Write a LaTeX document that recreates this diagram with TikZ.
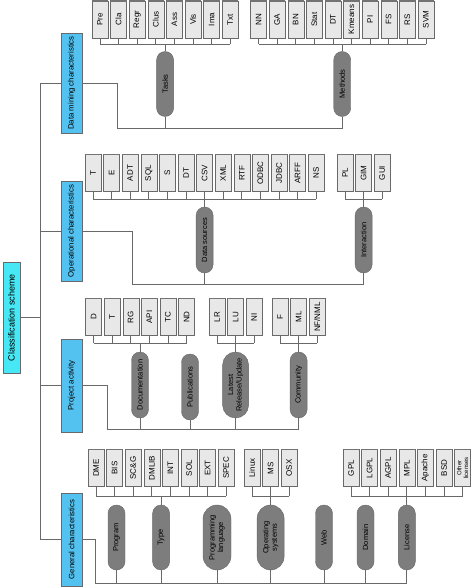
\documentclass[tikz,border=0pt]{standalone}
\usepackage{fontspec}
\setmainfont{Liberation Sans}
\usetikzlibrary{shapes.misc}

\definecolor{rootcol}{RGB}{70,232,245}
\definecolor{catcol}{RGB}{84,194,240}
\definecolor{grpcol}{RGB}{125,125,125}
\definecolor{leafcol}{RGB}{232,232,232}
\definecolor{linecol}{RGB}{105,105,105}

\tikzset{
  every node/.style={rotate=90, inner sep=0pt},
  rootbox/.style={draw=linecol, fill=rootcol, minimum width=111pt,
    minimum height=17pt, font=\fontsize{9}{10}\selectfont},
  catbox/.style={draw=linecol, fill=catcol, minimum height=21pt,
    font=\fontsize{7.8}{9}\selectfont},
  grpbox/.style={rounded rectangle, draw=black!60, fill=grpcol,
    minimum width=65pt, minimum height=17pt, align=center,
    font=\fontsize{7.5}{8.5}\selectfont},
  leafbox/.style={draw=linecol, fill=leafcol, minimum width=37pt,
    minimum height=16pt, align=center, font=\fontsize{8}{9}\selectfont},
  topbar/.style={line width=1.6pt, draw=black!55},
  wire/.style={draw=linecol, line width=0.8pt}
}

\begin{document}
\begin{tikzpicture}[x=1pt, y=-1pt]
  \useasboundingbox (0,0) rectangle (474,587);

  % root and trunk
  \node[rootbox] (root) at (11.5,317.5) {Classification scheme};
  \coordinate (trunk) at (40,0);

  \node[catbox, minimum width=100pt] (dm) at (71.5,83) {Data mining characteristics};
  \node[catbox, minimum width=100pt] (op) at (71.5,231) {Operational characteristics};
  \node[catbox, minimum width=93pt] (pa) at (71.5,385.5) {Project activity};
  \node[catbox, minimum width=93pt] (gc) at (71.5,539.5) {General characteristics};

  \draw[wire] (dm.north -| trunk) -- (gc.north -| trunk);
  \draw[wire] (root.south) -- (root.south -| trunk);
  \foreach \c in {dm,op,pa,gc} \draw[wire] (\c.north) -- (\c.north -| trunk);

  % data mining characteristics
  \coordinate (tabus) at (0,44); \coordinate (dmlow) at (117,128);
  \foreach \t [count=\i] in {Pre,Cla,Regr,Clus,Ass,Vis,Ima,Txt}{
    \node[leafbox] (ta\i) at ({100+18.6*(\i-1)},19.5) {\t};
    \draw[topbar] (ta\i.north east) -- (ta\i.south east);
    \draw[wire] (ta\i.west) -- (ta\i.west |- tabus);
  }
  \foreach \t [count=\i] in {NN,GA,BN,Stat,DT,Kmeans,PI,FS,RS,SVM}{
    \node[leafbox] (me\i) at ({258.5+18.6*(\i-1)},19.5) {\t};
    \draw[topbar] (me\i.north east) -- (me\i.south east);
    \draw[wire] (me\i.west) -- (me\i.west |- tabus);
  }
  \draw[wire] (ta1.west |- tabus) -- (ta8.west |- tabus);
  \draw[wire] (me1.west |- tabus) -- (me10.west |- tabus);

  \node[grpbox] (tasks) at (165.1,84) {Tasks};
  \node[grpbox] (methods) at (342.2,84) {Methods};
  \draw[wire] (tasks.east) -- (tasks.east |- tabus);
  \draw[wire] (methods.east) -- (methods.east |- tabus);
  \draw[wire] (dm.south) -| (dmlow) -| (methods.west);
  \draw[wire] (tasks.west) -- (tasks.west |- dmlow);

  % operational characteristics
  \coordinate (dsbus) at (0,199); \coordinate (oplow) at (132,284);
  \foreach \t [count=\i] in {T,E,ADT,SQL,S,DT,CSV,XML,RTF,ODBC,JDBC,ARFF,NS}{
    \node[leafbox] (ds\i) at ({93+18.6*(\i-1)},173) {\t};
    \draw[topbar] (ds\i.north east) -- (ds\i.south east);
    \draw[wire] (ds\i.west) -- (ds\i.west |- dsbus);
  }
  \foreach \t [count=\i] in {PL,GIM,GUI}{
    \node[leafbox] (in\i) at ({345+18.6*(\i-1)},173) {\t};
    \draw[topbar] (in\i.north east) -- (in\i.south east);
    \draw[wire] (in\i.west) -- (in\i.west |- dsbus);
  }
  \draw[wire] (ds1.west |- dsbus) -- (ds13.west |- dsbus);
  \draw[wire] (in1.west |- dsbus) -- (in3.west |- dsbus);

  \node[grpbox, minimum width=66pt] (sources) at (204.6,240) {Data sources};
  \node[grpbox, minimum width=66pt] (interaction) at (363.6,240) {Interaction};
  \draw[wire] (sources.east) -- (sources.east |- dsbus);
  \draw[wire] (interaction.east) -- (interaction.east |- dsbus);
  \draw[wire] (op.south) -| (oplow) -| (interaction.west);
  \draw[wire] (sources.west) -- (sources.west |- oplow);

  % project activity
  \coordinate (pabus) at (0,343); \coordinate (palow) at (107,429);
  \foreach \t [count=\i] in {D,T,RG,API,TC,ND}{
    \node[leafbox] (do\i) at ({93.5+18.6*(\i-1)},317) {\t};
    \draw[topbar] (do\i.north east) -- (do\i.south east);
    \draw[wire] (do\i.west) -- (do\i.west |- pabus);
  }
  \foreach \t [count=\i] in {LR,LU,NI}{
    \node[leafbox] (lr\i) at ({217+18.6*(\i-1)},317) {\t};
    \draw[topbar] (lr\i.north east) -- (lr\i.south east);
    \draw[wire] (lr\i.west) -- (lr\i.west |- pabus);
  }
  \foreach \t [count=\i] in {F,ML,NF/NML}{
    \node[leafbox] (co\i) at ({280+18.6*(\i-1)},317) {\t};
    \draw[topbar] (co\i.north east) -- (co\i.south east);
    \draw[wire] (co\i.west) -- (co\i.west |- pabus);
  }
  \draw[wire] (do1.west |- pabus) -- (do6.west |- pabus);
  \draw[wire] (lr1.west |- pabus) -- (lr3.west |- pabus);
  \draw[wire] (co1.west |- pabus) -- (co3.west |- pabus);

  \node[grpbox, minimum width=66pt] (docs) at (140,385) {Documentation};
  \node[grpbox, minimum width=66pt] (pubs) at (190,387) {Publications};
  \node[grpbox, minimum width=66pt, minimum height=26pt] (latest) at (235.6,385)
    {Latest\\Release/Update};
  \node[grpbox, minimum width=66pt] (community) at (298.6,385) {Community};
  \foreach \g in {docs,latest,community}
    \draw[wire] (\g.east) -- (\g.east |- pabus);
  \draw[wire] (pa.south) -| (palow) -| (community.west);
  \foreach \g in {docs,pubs,latest}
    \draw[wire] (\g.west) -- (\g.west |- palow);

  % general characteristics
  \coordinate (gcbus) at (0,496); \coordinate (gclow) at (95,583);
  \foreach \t [count=\i] in {DME,BIS,SC\&G,DMLIB,INT,SOL,EXT,SPEC}{
    \node[leafbox] (ty\i) at ({96+18.6*(\i-1)},468) {\t};
    \draw[topbar] (ty\i.north east) -- (ty\i.south east);
    \draw[wire] (ty\i.west) -- (ty\i.west |- gcbus);
  }
  \foreach \t [count=\i] in {Linux,MS,OSX}{
    \node[leafbox] (os\i) at ({252+18.6*(\i-1)},468) {\t};
    \draw[topbar] (os\i.north east) -- (os\i.south east);
    \draw[wire] (os\i.west) -- (os\i.west |- gcbus);
  }
  \foreach \t [count=\i] in {GPL,LGPL,AGPL,MPL,Apache,BSD}{
    \node[leafbox] (li\i) at ({351+18.6*(\i-1)},468) {\t};
    \draw[topbar] (li\i.north east) -- (li\i.south east);
    \draw[wire] (li\i.west) -- (li\i.west |- gcbus);
  }
  \node[leafbox, font=\fontsize{6}{6.8}\selectfont] (li7) at (462.6,468) {Other\\licenses};
  \draw[topbar] (li7.north east) -- (li7.south east);
  \draw[wire] (li7.west) -- (li7.west |- gcbus);
  \draw[wire] (ty1.west |- gcbus) -- (ty8.west |- gcbus);
  \draw[wire] (os1.west |- gcbus) -- (os3.west |- gcbus);
  \draw[wire] (li1.west |- gcbus) -- (li7.west |- gcbus);

  \node[grpbox] (program) at (116.5,537.5) {Program};
  \node[grpbox] (type) at (161.1,537.5) {Type};
  \node[grpbox, minimum height=28pt] (proglang) at (217,537.5) {Programming\\language};
  \node[grpbox, minimum height=27pt] (opsys) at (270.6,537.5) {Operating\\systems};
  \node[grpbox] (web) at (324,537.5) {Web};
  \node[grpbox] (domain) at (365.5,537.5) {Domain};
  \node[grpbox] (license) at (406.8,537.5) {License};
  \foreach \g in {type,opsys,license}
    \draw[wire] (\g.east) -- (\g.east |- gcbus);
  \draw[wire] (gc.south) -| (gclow) -| (license.west);
  \foreach \g in {program,type,proglang,opsys,web,domain}
    \draw[wire] (\g.west) -- (\g.west |- gclow);
\end{tikzpicture}
\end{document}
